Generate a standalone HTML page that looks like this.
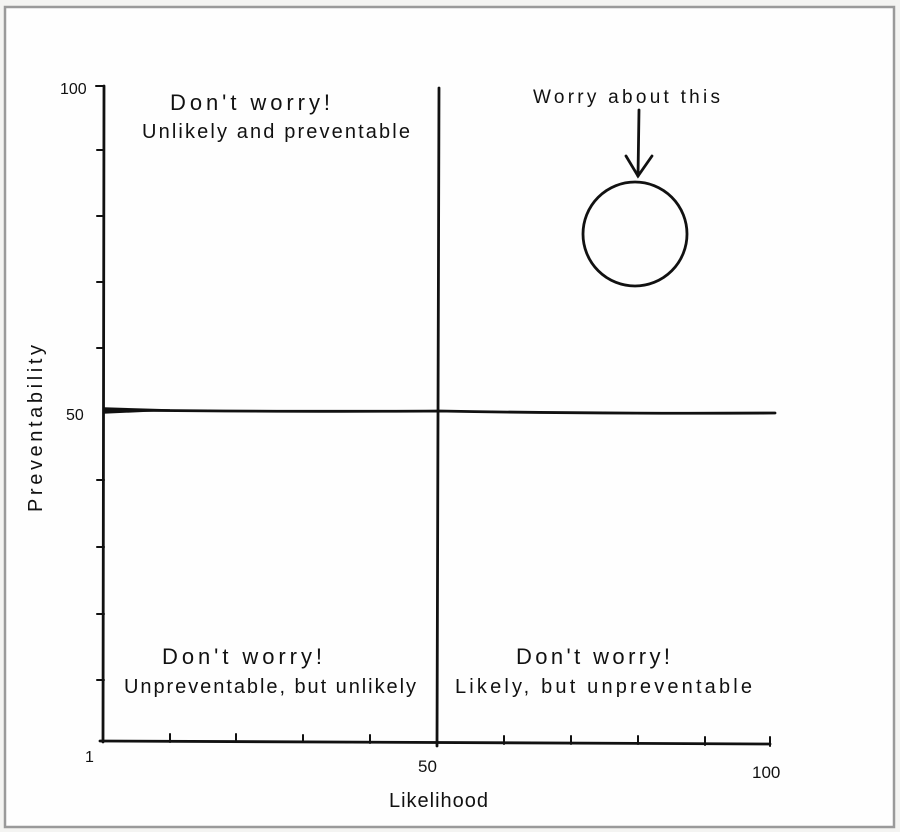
<!DOCTYPE html>
<html><head><style>
body{margin:0;background:#fff;}
svg{display:block;}
text{font-family:"Liberation Sans",sans-serif;fill:#111;}
</style></head><body>
<svg width="900" height="832" viewBox="0 0 900 832">
<rect x="0" y="0" width="900" height="832" fill="#f4f4f2"/>
<rect x="5" y="7" width="889" height="820" fill="#fefefe" stroke="#9a9a9a" stroke-width="2.5"/>
<g stroke="#111" stroke-width="2.8" fill="none" stroke-linecap="round">
<path d="M104 86 L103 742"/>
<path d="M100 741 L770 744"/>
<path d="M439 88 L437 746"/>
<path d="M104 410 Q300 412 440 411 Q600 414 775 413"/>
<path d="M104 408 L170 410 L104 413 Z" fill="#111" stroke-width="1.5"/>
<g stroke-width="2">
<path d="M96 86 L104 86"/><path d="M97 150 L104 150"/><path d="M97 216 L104 216"/><path d="M97 282 L104 282"/><path d="M97 348 L104 348"/><path d="M97 480 L104 480"/><path d="M97 547 L104 547"/><path d="M97 614 L104 614"/><path d="M97 680 L104 680"/>
<path d="M170 734 L170 742"/><path d="M236 734 L236 742"/><path d="M303 735 L303 742"/><path d="M370 735 L370 743"/><path d="M504 736 L504 744"/><path d="M571 736 L571 744"/><path d="M638 736 L638 744"/><path d="M705 737 L705 745"/><path d="M770 737 L770 746"/>
</g>
<circle cx="635" cy="234" r="52"/>
<path d="M639 110 L638 176"/>
<path d="M626 156 L638 176 L652 156"/>
</g>
<text x="60" y="94" font-size="16">100</text>
<text x="66" y="420" font-size="16">50</text>
<text x="85" y="762" font-size="16">1</text>
<text x="418" y="772" font-size="17">50</text>
<text x="752" y="778" font-size="17">100</text>
<text x="389" y="807" font-size="20" textLength="99">Likelihood</text>
<text transform="translate(42,512) rotate(-90)" font-size="20" textLength="167">Preventability</text>
<text x="170" y="110" font-size="22" textLength="160">Don't worry!</text>
<text x="142" y="138" font-size="20" textLength="268">Unlikely and preventable</text>
<text x="533" y="103" font-size="19" textLength="187">Worry about this</text>
<text x="162" y="664" font-size="22" textLength="160">Don't worry!</text>
<text x="124" y="693" font-size="20" textLength="292">Unpreventable, but unlikely</text>
<text x="516" y="664" font-size="22" textLength="154">Don't worry!</text>
<text x="455" y="693" font-size="20" textLength="297">Likely, but unpreventable</text>
</svg>
</body></html>
